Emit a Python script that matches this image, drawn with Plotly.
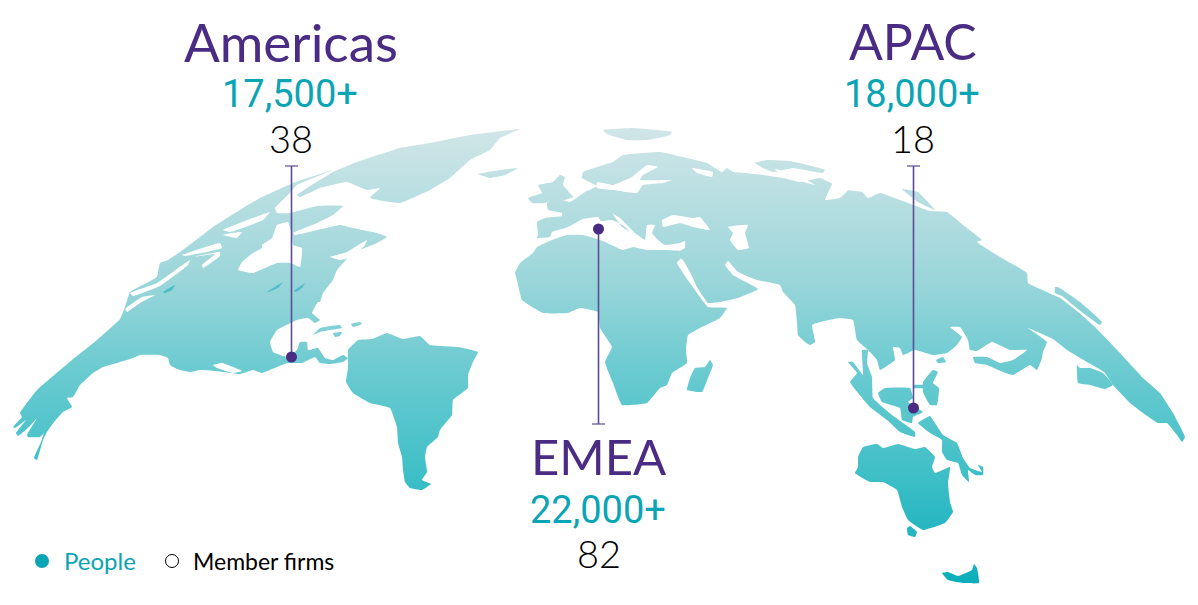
import plotly.graph_objects as go

# region figures
regions = ["Americas", "APAC", "EMEA"]
people = ["17,500+", "18,000+", "22,000+"]
firms = ["38", "18", "82"]
region_x = [291, 913, 599]
name_y = [41, 41, 456]
name_size = [53, 50, 49]
people_y = [94, 94, 510]
firms_y = [138, 138, 553]

# leader lines: cap end and dot end
leader_x = [291.5, 913.5, 598.5]
cap_y = [166, 166, 424]
dot_y = [357, 408, 229]

# outlines, in picture pixels
north_america = [(120,319),(125,307),(130,292),(157,277),(160,263),(168,260),(180,252),(200,237),(213,227),(243,208),(260,198),(293,183),(333,170),(297,185),(288,195),(275,208),(277,213),(290,213),(317,206),(343,206),(333,215),(317,223),(293,233),(295,235),(340,225),(353,228),(377,233),(387,237),(377,243),(353,253),(337,270),(333,280),(323,293),(320,302),(318,302),(312,313),(320,320),(315,323),(308,318),(297,320),(277,330),(270,342),(273,352),(287,357),(297,350),(300,342),(307,342),(308,350),(318,348),(325,358),(333,360),(343,355),(348,358),(343,362),(330,364),(320,363),(315,357),(302,363),(287,363),(277,367),(262,373),(253,370),(240,374),(215,371),(200,370),(190,372),(177,369),(170,365),(168,358),(160,355),(140,355),(133,358),(117,363),(103,367),(93,373),(80,385),(73,397),(67,398),(72,407),(63,412),(40,437),(28,437),(27,435),(37,418),(28,428),(18,436),(16,433),(26,420),(15,428),(13,427),(22,417),(20,413),(37,390),(72,360),(97,340)]
aleutians = [(55,420),(47,432),(43,440),(37,460),(34,458),(41,442),(45,430),(53,420)]
greenland = [(297,195),(333,172),(357,162),(400,148),(430,143),(470,135),(520,129),(500,138),(490,150),(470,160),(450,178),(430,190),(400,203),(370,198),(380,188),(367,190),(347,182),(320,188),(300,197)]
iceland = [(478,174),(500,170),(518,168),(505,175),(490,178)]
cuba = [(313,335),(320,328),(340,325),(342,328),(330,330),(320,332)]
hispaniola = [(333,333),(342,332),(340,336),(335,337)]
bahamas = [(351,324),(360,322),(362,324),(353,327)]
south_america = [(348,350),(358,340),(372,339),(387,333),(403,339),(420,336),(430,345),(458,347),(478,352),(473,362),(468,375),(468,388),(453,400),(452,415),(440,430),(438,437),(427,447),(425,457),(427,472),(422,480),(431,484),(422,490),(410,488),(405,482),(403,470),(402,457),(398,443),(397,427),(390,408),(370,403),(353,393),(346,382),(348,368),(348,358)]
africa = [(515,273),(520,263),(533,253),(537,247),(552,240),(567,235),(583,235),(603,241),(623,250),(633,247),(647,250),(663,250),(680,251),(681,258),(677,263),(690,283),(708,307),(727,308),(720,318),(700,328),(688,335),(686,350),(687,363),(672,373),(667,385),(660,388),(647,403),(622,405),(613,383),(605,362),(612,347),(600,328),(598,312),(580,308),(568,313),(543,313),(522,300),(517,280)]
eurasia = [(537,238),(550,237),(552,232),(568,227),(583,219),(598,217),(601,221),(612,220),(624,226),(630,232),(622,227),(612,213),(610,212),(620,218),(635,233),(645,240),(647,225),(655,225),(652,233),(658,240),(665,245),(680,243),(685,241),(685,248),(680,251),(680,258),(683,260),(690,272),(697,287),(708,303),(720,302),(738,298),(758,289),(733,275),(725,265),(728,261),(738,272),(757,280),(780,285),(783,292),(795,305),(797,323),(798,335),(805,342),(810,345),(815,342),(812,325),(820,322),(840,318),(853,320),(857,340),(868,350),(877,360),(880,370),(895,360),(893,347),(900,348),(903,355),(915,350),(933,355),(947,353),(957,345),(962,337),(950,327),(960,327),(968,340),(970,350),(977,351),(992,342),(1010,350),(1027,350),(1013,360),(1000,363),(987,357),(973,357),(975,363),(987,365),(1003,372),(1013,375),(1030,365),(1037,370),(1042,358),(1043,352),(1047,342),(1028,328),(1053,339),(1067,350),(1087,362),(1104,372),(1113,385),(1130,403),(1143,413),(1158,423),(1167,423),(1177,435),(1182,442),(1185,437),(1173,413),(1160,393),(1143,378),(1120,353),(1095,327),(1077,311),(1060,298),(1028,283),(1027,273),(1000,257),(977,242),(982,240),(963,225),(947,212),(930,211),(900,200),(880,193),(868,198),(862,192),(848,190),(835,185),(820,178),(800,182),(783,178),(763,175),(745,173),(733,172),(727,168),(722,172),(707,163),(687,158),(660,152),(623,155),(613,162),(583,172),(582,178),(597,186),(585,192),(570,202),(553,197),(547,203),(548,210),(562,213),(562,216),(545,218),(537,222),(538,235)]
britain = [(528,198),(542,193),(538,185),(553,182),(560,175),(565,177),(563,185),(573,197),(557,202),(550,200),(545,203),(532,203)]
svalbard = [(603,130),(633,128),(672,132),(670,135),(648,140),(627,140),(607,134)]
novaya_zemlya = [(755,163),(767,160),(790,161),(825,170),(823,173),(793,168),(773,172),(763,168)]
taimyr = [(902,189),(918,192),(935,210),(918,202)]
kuril = [(1055,287),(1058,287),(1080,302),(1102,322),(1100,325),(1078,309),(1062,296),(1055,293)]
honshu = [(1077,365),(1080,368),(1090,368),(1103,373),(1113,385),(1105,389),(1090,385),(1078,383)]
madagascar = [(687,390),(690,378),(695,368),(705,367),(710,360),(713,365),(708,378),(702,392)]
sumatra = [(848,362),(853,362),(863,375),(862,350),(868,350),(867,363),(872,377),(873,398),(892,415),(915,432),(915,437),(900,432),(887,420),(870,407),(850,382),(857,373)]
borneo = [(878,393),(885,388),(910,388),(913,398),(908,402),(923,412),(913,417),(912,423),(902,420),(900,408),(882,402)]
sulawesi = [(923,382),(933,370),(938,372),(933,383),(939,388),(937,405),(930,405),(923,392)]
strait = [(913,385),(925,385),(925,388),(913,388)]
hainan = [(936,360),(943,357),(946,362),(938,363)]
java = [(918,423),(930,416),(935,423),(943,435),(957,443),(963,458),(970,468),(982,472),(978,465),(983,467),(983,475),(975,475),(968,470),(969,482),(962,475),(958,463),(947,460),(942,452),(942,440),(930,433)]
australia = [(858,457),(863,447),(877,444),(883,448),(898,444),(915,449),(925,447),(935,457),(932,467),(935,473),(950,467),(948,483),(950,502),(953,512),(945,523),(923,530),(908,520),(902,507),(897,490),(883,482),(870,482),(855,473),(858,467)]
tasmania = [(907,528),(910,526),(917,532),(915,537),(908,535)]
new_zealand = [(942,573),(948,572),(958,576),(972,570),(974,564),(977,568),(979,583),(963,583),(948,580)]

land = [north_america, aleutians, greenland, iceland, cuba, hispaniola, bahamas, south_america, africa, eurasia, britain,
        svalbard, novaya_zemlya, taimyr, kuril, honshu, madagascar, sumatra, borneo, sulawesi, strait, hainan, java,
        australia, tasmania, new_zealand]

# water cut out of the land
hudson_bay = [(238,270),(242,262),(253,253),(262,248),(262,245),(272,238),(277,225),(288,222),(292,235),(293,245),(302,248),(300,267),(290,263),(277,263),(253,273)]
st_lawrence = [(330,257),(347,252),(367,240),(365,245),(353,257),(340,260),(333,258)]
baja_gulf = [(213,365),(222,363),(242,371),(233,373),(217,368)]
channel_1 = [(223,230),(270,212),(263,220),(230,232)]
channel_2 = [(223,235),(237,238),(242,232),(232,233)]
channel_3 = [(182,255),(220,243),(222,248),(185,256)]
channel_4 = [(192,257),(220,252),(220,256),(203,268),(202,265),(215,254)]
channel_5 = [(130,293),(157,283),(190,260),(188,265),(160,286),(133,296)]
channel_6 = [(125,309),(142,297),(155,295),(140,303),(127,312)]
baltic = [(597,182),(613,185),(632,177),(647,165),(658,167),(643,175),(640,180),(672,180),(663,183),(643,185),(637,193),(613,190),(597,188)]
white_sea = [(692,168),(713,172),(712,177),(697,173)]
kara_slit = [(775,169),(800,176),(815,185),(800,181),(783,176)]
ob_gulf = [(833,183),(848,190),(840,198),(825,200),(828,193)]
black_sea = [(662,220),(673,215),(693,218),(700,217),(710,230),(693,227),(680,223),(663,227)]
caspian = [(728,227),(748,225),(745,233),(749,248),(738,250),(730,240),(733,233)]
water = [hudson_bay, st_lawrence, baja_gulf, channel_1, channel_2, channel_3, channel_4, channel_5, channel_6,
         baltic, white_sea, kara_slit, ob_gulf, black_sea, caspian]

# the small darker streaks over North America
streaks = [[(163,292),(175,285),(172,290),(165,293)], [(267,292),(283,282),(278,288),(268,292)], [(294,291),(305,283),(302,288),(296,292)]]

legend_x = [42, 172]
legend_y = [561, 561]
legend_text = ["People", "Member firms"]
legend_text_x = [62, 191]

PURPLE = "#4b2c85"
TEAL = "#0aa5b5"
LINE = "#5f4c96"
FONT = "Lato"

land_gradient = dict(type="vertical", start=125, stop=590,
                     colorscale=[[0, "#d2e6e8"], [0.33, "#9bd6da"], [0.52, "#6ccbd1"], [0.75, "#3fbfc7"], [1, "#08adbb"]])

fig = go.Figure()


def add_outline(points, **kwargs):
    xs = [p[0] for p in points] + [points[0][0]]
    ys = [p[1] for p in points] + [points[0][1]]
    fig.add_trace(go.Scatter(x=xs, y=ys, mode="lines", line=dict(width=0, shape="spline", smoothing=0.3),
                             fill="toself", hoverinfo="skip", **kwargs))


for shape in land:
    add_outline(shape, fillgradient=land_gradient)
for shape in water:
    add_outline(shape, fillcolor="white")
for shape in streaks:
    add_outline(shape, fillcolor="rgba(20,170,185,0.55)")

# leader lines, caps and dots
for x, c, d in zip(leader_x, cap_y, dot_y):
    fig.add_trace(go.Scatter(x=[x, x], y=[c, d], mode="lines", line=dict(color=LINE, width=1.6), hoverinfo="skip"))
    fig.add_trace(go.Scatter(x=[x - 6.5, x + 6.5], y=[c, c], mode="lines", line=dict(color=LINE, width=1.2), hoverinfo="skip"))
fig.add_trace(go.Scatter(x=leader_x, y=dot_y, mode="markers", marker=dict(color=PURPLE, size=11), hoverinfo="skip"))

# region labels
for i in range(len(regions)):
    fig.add_annotation(x=region_x[i], y=name_y[i], text=regions[i], showarrow=False,
                       font=dict(family=FONT, size=name_size[i], color=PURPLE))
    fig.add_annotation(x=region_x[i] - 1, y=people_y[i], text=people[i], showarrow=False,
                       font=dict(family="Roboto", size=38, color=TEAL, weight=400))
    fig.add_annotation(x=region_x[i], y=firms_y[i], text=firms[i], showarrow=False,
                       font=dict(family=FONT, size=38, color="black", weight=300))

# legend
fig.add_trace(go.Scatter(x=legend_x[:1], y=legend_y[:1], mode="markers", marker=dict(color=TEAL, size=14), hoverinfo="skip"))
fig.add_trace(go.Scatter(x=legend_x[1:], y=legend_y[1:], mode="markers",
                         marker=dict(color="white", size=13, line=dict(color="black", width=1)), hoverinfo="skip"))
fig.add_annotation(x=legend_text_x[0], y=legend_y[0] - 1, text=legend_text[0], xanchor="left", showarrow=False, font=dict(family=FONT, size=24, color=TEAL))
fig.add_annotation(x=legend_text_x[1], y=legend_y[1], text=legend_text[1], xanchor="left", showarrow=False, font=dict(family=FONT, size=23, color="black"))

fig.update_layout(width=1198, height=605, margin=dict(l=0, r=0, t=0, b=0), showlegend=False,
                  paper_bgcolor="white", plot_bgcolor="white",
                  xaxis=dict(range=[0, 1198], visible=False, fixedrange=True),
                  yaxis=dict(range=[605, 0], visible=False, fixedrange=True))

# the page's default body margin would push the figure 8px off
fig.write_html("out.html", config=dict(displayModeBar=False),
               post_script="document.body.style.margin='0';document.documentElement.style.overflow='hidden';")
